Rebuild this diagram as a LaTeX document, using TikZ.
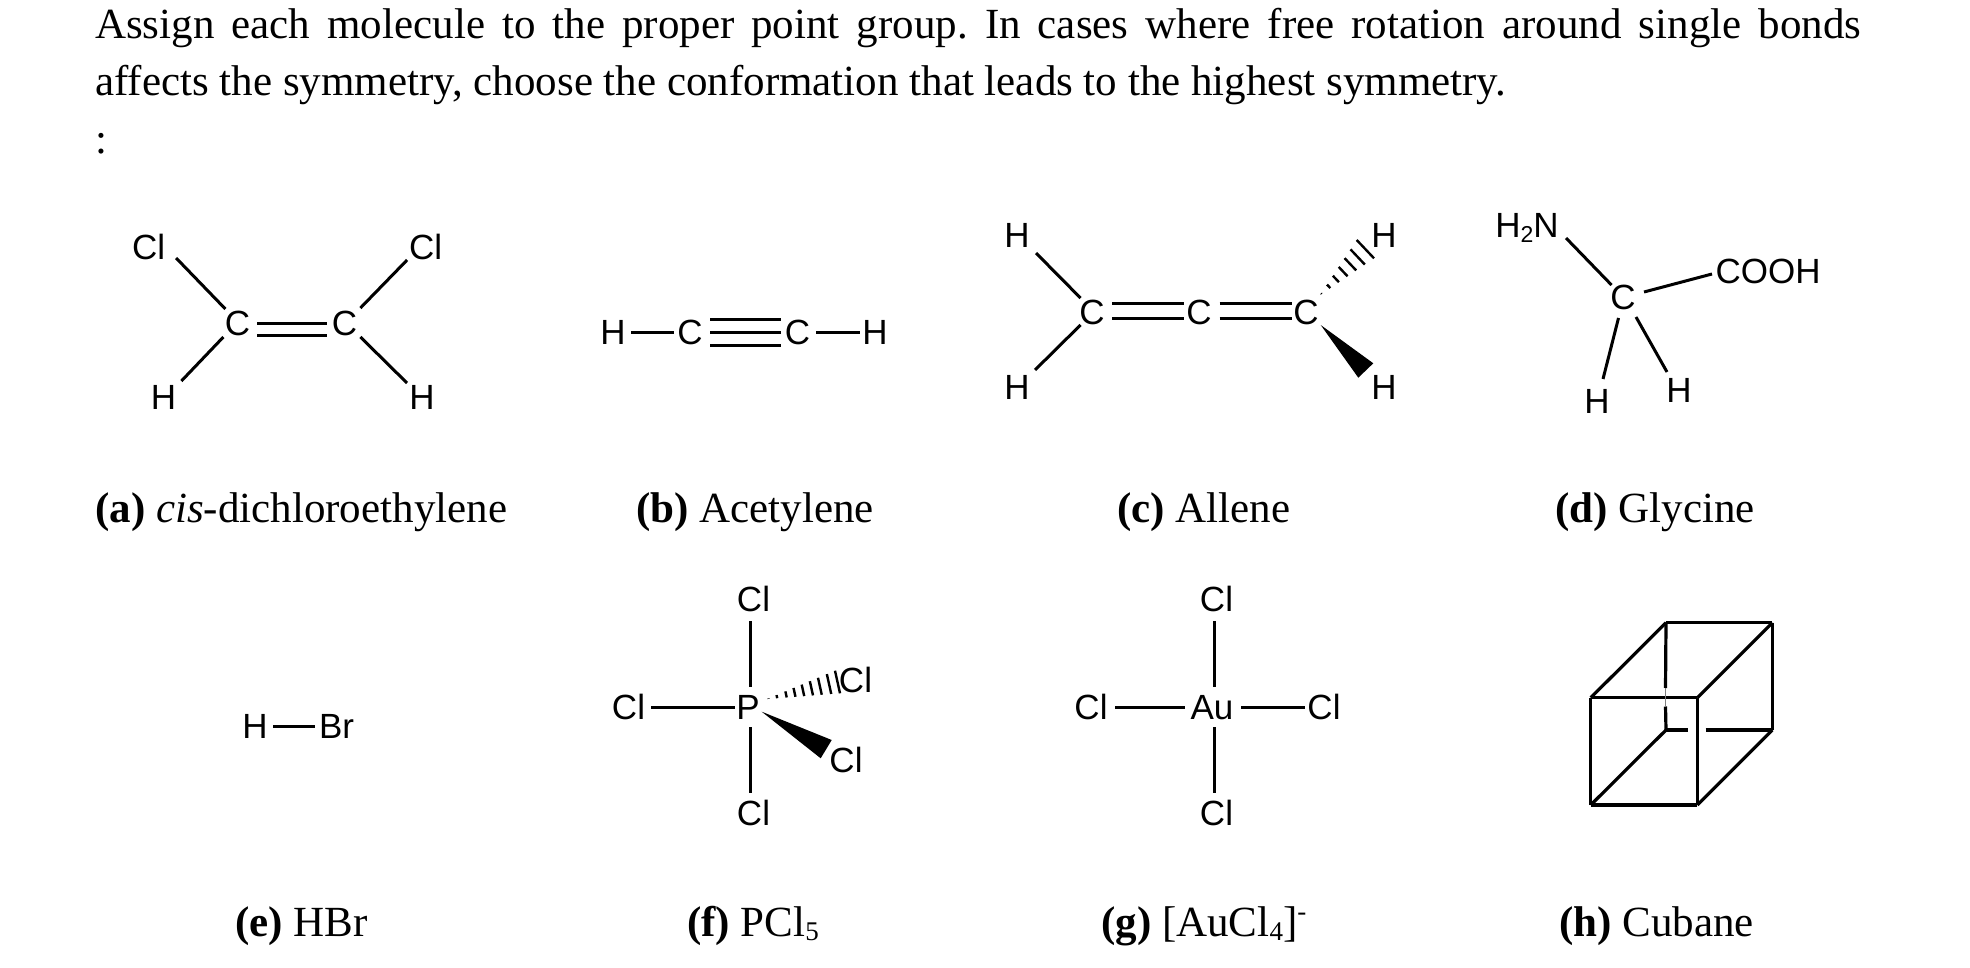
\documentclass[tikz,border=0pt]{standalone}
\usepackage{fontspec}
\setmainfont{Liberation Serif}
\newfontfamily\atomfont{Liberation Sans}
\usetikzlibrary{calc}
\frenchspacing
\begin{document}
\begin{tikzpicture}[x=1pt,y=-1pt,
	atom/.style={font=\atomfont\fontsize{35}{35}\selectfont,inner sep=0pt,text height=25pt,text depth=0pt},
	bond/.style={line width=3pt},
	hashline/.style={line width=2.4pt},
	cubeedge/.style={line width=3.2pt},
	caption/.style={font=\fontsize{43}{43}\selectfont,anchor=base west,inner sep=0pt}]
	\useasboundingbox (0,0) rectangle (1970,968);
	\node[anchor=north west,inner sep=0pt,text width=1766pt,align=justify,font=\fontsize{43}{57.5}\selectfont] (task) at (95,8) {Assign each molecule to the proper point group. In cases where free rotation around single bonds\linebreak affects the symmetry, choose the conformation that leads to the highest symmetry.\\ :};
	\node[atom] (aCl1) at (148.6,247) {Cl};
	\node[atom] (aCl2) at (425.6,247) {Cl};
	\node[atom] (aC1) at (237.4,323) {C};
	\node[atom] (aC2) at (344.4,323) {C};
	\node[atom] (aH1) at (163.4,397) {H};
	\node[atom] (aH2) at (422,397) {H};
	\draw[bond] ([shift={(27.5,11)}]aCl1.center) -- ([shift={(-12,-14)}]aC1.center);
	\draw[bond] ([shift={(-18.5,13)}]aCl2.center) -- ([shift={(16,-15)}]aC2.center);
	\draw[bond] ([shift={(-14,14)}]aC1.center) -- ([shift={(18,-16)}]aH1.center);
	\draw[bond] ([shift={(16,14)}]aC2.center) -- ([shift={(-15,-14)}]aH2.center);
	\draw[bond] ([shift={(20,0)}]aC1.center) -- ([shift={(-17,0)}]aC2.center);
	\draw[bond] ([shift={(20,12)}]aC1.center) -- ([shift={(-17,12)}]aC2.center);
	\node[atom] (bH1) at (613,332) {H};
	\node[atom] (bC1) at (690,332) {C};
	\node[atom] (bC2) at (797.5,332) {C};
	\node[atom] (bH2) at (875,332) {H};
	\draw[bond] ([xshift=18pt]bH1.center) -- ([xshift=-16.5pt]bC1.center);
	\draw[bond] ([xshift=18.5pt]bC2.center) -- ([xshift=-15pt]bH2.center);
	\foreach \off in {-13,0,13}
		\draw[bond] ([shift={(20,\off)}]bC1.center) -- ([shift={(-16.5,\off)}]bC2.center);
	\node[atom] (cH1) at (1017,235) {H};
	\node[atom] (cC1) at (1092,312) {C};
	\node[atom] (cC2) at (1199,312) {C};
	\node[atom] (cC3) at (1306,312) {C};
	\node[atom] (cH2) at (1017,387) {H};
	\node[atom] (cH3) at (1384,235) {H};
	\node[atom] (cH4) at (1384,387) {H};
	\draw[bond] ([shift={(19,18)}]cH1.center) -- ([shift={(-11.5,-14)}]cC1.center);
	\draw[bond] ([shift={(-11.5,13)}]cC1.center) -- ([shift={(18,-17)}]cH2.center);
	\draw[bond] ([shift={(20,-8)}]cC1.center) -- ([shift={(-15,-8)}]cC2.center);
	\draw[bond] ([shift={(20,6)}]cC1.center) -- ([shift={(-15,6)}]cC2.center);
	\draw[bond] ([shift={(20.5,-8)}]cC2.center) -- ([shift={(-14,-8)}]cC3.center);
	\draw[bond] ([shift={(20.5,6)}]cC2.center) -- ([shift={(-14,6)}]cC3.center);
	\foreach \t in {0.03,0.19,0.35,0.51,0.67,0.83,1}
		\draw[hashline] ($([shift={(14,-17)}]cC3.center)!\t!([shift={(-27.3,5)}]cH3.center)$) -- ($([shift={(14,-17)}]cC3.center)!\t!([shift={(-10,23.3)}]cH3.center)$);
	\fill ([shift={(14.7,13)}]cC3.center) -- ([shift={(-10.7,-23.7)}]cH4.center) -- ([shift={(-25.7,-9.3)}]cH4.center) -- cycle;
	\node[atom] (dN) at (1527,225) {H{\fontsize{23}{23}\selectfont\raisebox{-5pt}{2}}N};
	\node[atom] (dC) at (1623,297) {C};
	\node[atom] (dCO) at (1768,271) {COOH};
	\node[atom] (dH1) at (1597,401) {H};
	\node[atom] (dH2) at (1679,390) {H};
	\draw[bond] ([shift={(39,13)}]dN.center) -- ([shift={(-11.5,-12)}]dC.center);
	\draw[bond] ([shift={(21,-5)}]dC.center) -- ([shift={(-56,3)}]dCO.center);
	\draw[bond] ([shift={(-4.5,21)}]dC.center) -- ([shift={(6,-22)}]dH1.center);
	\draw[bond] ([shift={(13,20)}]dC.center) -- ([shift={(-12,-18)}]dH2.center);
	\node[atom] (eH) at (255,726) {H};
	\node[atom] (eBr) at (336.5,726) {Br};
	\draw[bond] ([xshift=18pt]eH.center) -- ([xshift=-21.5pt]eBr.center);
	\node[atom] (fP) at (748,707) {P};
	\node[atom] (fCl1) at (753.5,599) {Cl};
	\node[atom] (fCl2) at (628.5,707) {Cl};
	\node[atom] (fCl3) at (753.5,813) {Cl};
	\node[atom] (fCl4) at (855.5,680) {Cl};
	\node[atom] (fCl5) at (846,760) {Cl};
	\draw[bond] ([shift={(-3.5,22)}]fCl1.center) -- ([shift={(2,-20)}]fP.center);
	\draw[bond] ([shift={(2,20)}]fP.center) -- ([shift={(-3.5,-20)}]fCl3.center);
	\draw[bond] ([xshift=22.5pt]fCl2.center) -- ([xshift=-13.4pt]fP.center);
	\foreach \t in {0.02,0.14,0.27,0.39,0.51,0.63,0.75,0.88,1}
		\draw[hashline] ($([shift={(19,-8)}]fP.center)!\t!([shift={(-20.5,-9.3)}]fCl4.center)$) -- ($([shift={(19,-8)}]fP.center)!\t!([shift={(-15.5,13.3)}]fCl4.center)$);
	\fill ([shift={(13.7,4.7)}]fP.center) -- ([shift={(-14.3,-20)}]fCl5.center) -- ([shift={(-25.3,-1.7)}]fCl5.center) -- cycle;
	\node[atom] (gAu) at (1212,707) {Au};
	\node[atom] (gCl1) at (1216.5,599) {Cl};
	\node[atom] (gCl2) at (1091,707) {Cl};
	\node[atom] (gCl3) at (1324,707) {Cl};
	\node[atom] (gCl4) at (1216.5,813) {Cl};
	\draw[bond] ([shift={(-2.5,22)}]gCl1.center) -- ([shift={(2,-20)}]gAu.center);
	\draw[bond] ([shift={(2,20)}]gAu.center) -- ([shift={(-2.5,-20)}]gCl4.center);
	\draw[bond] ([xshift=24pt]gCl2.center) -- ([xshift=-27pt]gAu.center);
	\draw[bond] ([xshift=29pt]gAu.center) -- ([xshift=-19.5pt]gCl3.center);
	\coordinate (hA) at (1590.7,697.7);
	\coordinate (hB) at (1697.3,697.7);
	\coordinate (hC) at (1697.3,805);
	\coordinate (hD) at (1590.7,805);
	\coordinate (hE) at (1666,622.7);
	\coordinate (hF) at (1772.3,622.7);
	\coordinate (hG) at (1772.3,730);
	\coordinate (hH) at (1666,730);
	\coordinate (hGapA) at (1687.5,730);
	\coordinate (hGapB) at (1705.5,730);
	\coordinate (hGapC) at (1665.5,688);
	\coordinate (hGapD) at (1665.5,706.5);
	\draw[cubeedge] (hA) -- (hB);
	\draw[cubeedge] (hB) -- (hC);
	\draw[cubeedge] (hC) -- (hD);
	\draw[cubeedge] (hD) -- (hA);
	\draw[cubeedge] (hE) -- (hF);
	\draw[cubeedge] (hF) -- (hG);
	\draw[cubeedge] (hA) -- (hE);
	\draw[cubeedge] (hB) -- (hF);
	\draw[cubeedge] (hC) -- (hG);
	\draw[cubeedge] (hD) -- (hH);
	\draw[cubeedge] (hE) -- (hGapC);
	\draw[cubeedge] (hGapD) -- (hH);
	\draw[cubeedge] (hH) -- (hGapA);
	\draw[cubeedge] (hGapB) -- (hG);
	\draw[line width=0.5pt,gray] (hGapC) -- (hGapD);
	\node[caption] (capA) at (95,522) {\textbf{(a)} \textit{cis}-dichloroethylene};
	\node[caption] (capB) at (636,522) {\textbf{(b)} Acetylene};
	\node[caption] (capC) at (1117,522) {\textbf{(c)} Allene};
	\node[caption] (capD) at (1555,522) {\textbf{(d)} Glycine};
	\node[caption] (capE) at (235,936) {\textbf{(e)} HBr};
	\node[caption] (capF) at (687,936) {\textbf{(f)} PCl{\fontsize{27}{27}\selectfont\raisebox{-4pt}{5}}};
	\node[caption] (capG) at (1101,936) {\textbf{(g)} [AuCl{\fontsize{27}{27}\selectfont\raisebox{-4pt}{4}}]{\fontsize{27}{27}\selectfont\raisebox{16pt}{-}}};
	\node[caption] (capH) at (1559,936) {\textbf{(h)} Cubane};
\end{tikzpicture}
\end{document}
